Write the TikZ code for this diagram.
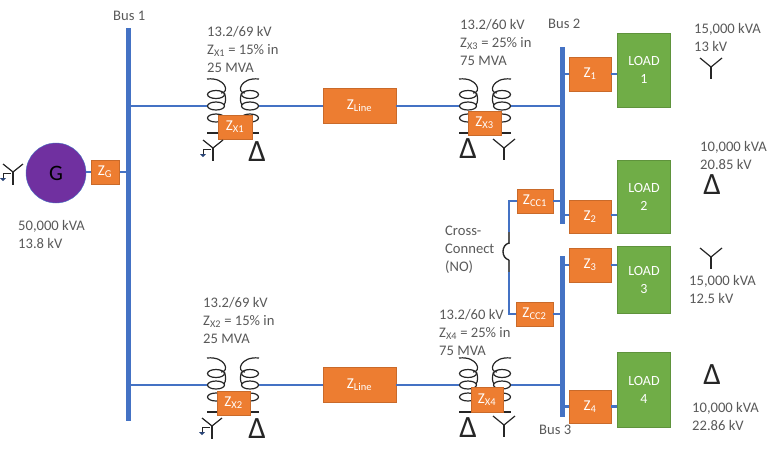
\documentclass[tikz,border=0pt]{standalone}
\usepackage{fontspec}
\setmainfont{Carlito}
\definecolor{busblue}{HTML}{4472C4}
\definecolor{zorange}{HTML}{ED7D31}
\definecolor{loadgreen}{HTML}{70AD47}
\definecolor{genpurple}{HTML}{7030A0}
\definecolor{txtgray}{HTML}{595959}
\definecolor{symdark}{HTML}{262626}
\tikzstyle{wire}=[-,draw=busblue,line width=2.2pt]
\tikzstyle{busbar}=[rectangle,fill=busblue,inner sep=0pt,minimum width=5]
\tikzstyle{zb}=[rectangle,draw=zorange!85!black,line width=0.4pt,fill=zorange,text=white,inner sep=0pt,font=\fontsize{15}{16}\selectfont]
\tikzstyle{loadb}=[rectangle,draw=loadgreen!85!black,line width=0.4pt,fill=loadgreen,text=white,inner sep=0pt,align=center,minimum width=53,font=\fontsize{14}{18}\selectfont]
\tikzstyle{lab}=[inner sep=0pt,anchor=west,align=left,text=txtgray,font=\fontsize{14.6}{18}\selectfont]
\tikzstyle{sym}=[draw=symdark,line width=1.2pt]
\tikzstyle{dsym}=[inner sep=0pt,text=symdark,font=\fontsize{31}{31}\selectfont]
\tikzset{
  wye/.pic={
    \draw[sym] (-11,-9) -- (0,0) -- (11,-9);
    \draw[sym,line width=1.6pt] (0,0) -- (0,12);
  },
  gndwye/.pic={
    \draw[sym] (-10,-8) -- (0,0) -- (10,-8);
    \draw[sym,line width=1.6pt] (0,0) -- (0,13);
    \draw[sym,line width=0.8pt] (-2,1) -- (-10,1) -- (-10,6);
    \fill[busblue!60!black] (-13,6) -- (-7,6) -- (-10,9) -- cycle;
  },
  xfmr/.pic={
    \foreach \s in {-1,1} {
      \draw[sym] (\s*26,-27) .. controls (\s*7,-29) and (\s*3,-13) .. (\s*12,-13);
      \draw[sym] (\s*8.5,-13) .. controls (\s*7,-8) and (\s*7,-4) .. (\s*9,-1);
      \foreach \h in {-11.5,0,12}
        \draw[sym] (\s*17,\h) ellipse [x radius=8.5, y radius=4];
      \draw[sym] (\s*26,27) -- (\s*10,27);
    }
    \coordinate (-l) at (-26,0);
    \coordinate (-r) at (26,0);
  }
}
\newcommand{\zs}[1]{Z\textsubscript{#1}}
\begin{document}
\begin{tikzpicture}[>=latex,x=1pt,y=-1pt]
\useasboundingbox (0,0) rectangle (779,448);

\node[busbar,minimum height=393] (B1) at (128,224.5) {};
\node[busbar,minimum height=177] (B2) at (562,135.5) {};
\node[busbar,minimum height=161] (B3) at (562,336.5) {};

\node[circle,draw=busblue,line width=0.4pt,fill=genpurple,minimum size=60,inner sep=0pt,font=\fontsize{22}{24}\selectfont] (G) at (56,173) {G};
\pic (X1) at (233,106) {xfmr};
\pic (X2) at (233,385) {xfmr};
\pic (X3) at (485,106) {xfmr};
\pic (X4) at (485,385) {xfmr};

\draw[wire] (G.east |- 0,172) -- (91,172);
\draw[wire] (119,172) -- (B1 |- 0,172);
\draw[wire] (X1-l -| B1) -- (X1-l);
\draw[wire] (X2-l -| B1) -- (X2-l);
\draw[wire] (X3-r) -- (X3-r -| B2);
\draw[wire] (X4-r) -- (X4-r -| B3);

\node[zb,minimum width=28,minimum height=24] (ZG) at (105,172) {\zs{G}};
\node[zb,minimum width=34,minimum height=24] (ZX1) at (235,127) {\zs{X1}};
\node[zb,minimum width=33,minimum height=24] (ZX2) at (233.5,403) {\zs{X2}};
\node[zb,minimum width=33,minimum height=24] (ZX3) at (484.5,123) {\zs{X3}};
\node[zb,minimum width=32,minimum height=25] (ZX4) at (487,399.5) {\zs{X4}};
\node[zb,minimum width=73,minimum height=35] (ZL1) at (359.5,106) {\zs{Line}};
\node[zb,minimum width=73,minimum height=35] (ZL2) at (359.5,385) {\zs{Line}};
\node[zb,minimum width=42,minimum height=34] (Z1) at (590,74) {\zs{1}};
\node[zb,minimum width=42,minimum height=33] (Z2) at (590,216.5) {\zs{2}};
\node[zb,minimum width=42,minimum height=34] (Z3) at (590,265) {\zs{3}};
\node[zb,minimum width=42,minimum height=33] (Z4) at (590,406.5) {\zs{4}};
\node[zb,minimum width=36,minimum height=24] (ZC1) at (535,201) {\zs{CC1}};
\node[zb,minimum width=37,minimum height=24] (ZC2) at (534.5,314) {\zs{CC2}};

\node[loadb,minimum height=74] (L1) at (644,70) {LOAD\\1};
\node[loadb,minimum height=73] (L2) at (644,196.5) {LOAD\\2};
\node[loadb,minimum height=67] (L3) at (644,279.5) {LOAD\\3};
\node[loadb,minimum height=75] (L4) at (644,389.5) {LOAD\\4};

\draw[wire] (ZL1.west) -- (X1-r);
\draw[wire] (ZL2.west) -- (X2-r);
\draw[wire] (ZL1.east) -- (X3-l);
\draw[wire] (ZL2.east) -- (X4-l);
\draw[wire] (Z1.west -| B2) -- (Z1.west);
\draw[wire] (B2 |- 0,215) -- (569,215);
\draw[wire] (Z3.west -| B3) -- (Z3.west);
\draw[wire] (B3 |- Z4.west) -- (Z4.west);
\draw[wire] (Z1.east) -- (Z1.east -| L1.west);
\draw[wire] (611,215) -- (L2.west |- 0,215);
\draw[wire] (Z3.east) -- (Z3.east -| L3.west);
\draw[wire] (Z4.east) -- (Z4.east -| L4.west);
\draw[wire] (ZC1.east) -- (ZC1.east -| B2);
\draw[wire] (ZC2.east) -- (ZC2.east -| B3);

\coordinate (SA) at (509,232);
\coordinate (SB) at (509,272);
\draw[wire] (ZC1.west) -- (ZC1.west -| SA) -- (SA);
\draw[wire] (ZC2.west) -- (ZC2.west -| SB) -- (SB);
\draw[draw=txtgray,line width=2.2pt] (SA) -- (509,244);
\draw[draw=txtgray,line width=2.2pt] (509,260) -- (SB);
\draw[sym,line width=1.4pt] (509,243) .. controls (501,245) and (501,258) .. (509,260);

\pic at (13,172) {gndwye};
\pic at (213,148) {gndwye};
\pic at (212,426) {gndwye};
\pic at (504,148) {wye};
\pic at (504,425) {wye};
\pic at (711,67) {wye};
\pic at (711,257) {wye};

\node[dsym] (D1) at (257,152) {Δ};
\node[dsym] (D2) at (257,429) {Δ};
\node[dsym] (D3) at (468,149) {Δ};
\node[dsym] (D4) at (468,428) {Δ};
\node[dsym] (D5) at (712,185) {Δ};
\node[dsym] (D6) at (712,375) {Δ};

\node[lab] (T1) at (113,16) {Bus 1};
\node[lab] (T2) at (548,24) {Bus 2};
\node[lab] (T3) at (539,430) {Bus 3};
\node[lab] (T4) at (18,234) {50,000 kVA\\13.8 kV};
\node[lab] (T5) at (207,49) {13.2/69 kV\\\zs{X1} = 15\% in\\25 MVA};
\node[lab] (T6) at (203,320) {13.2/69 kV\\\zs{X2} = 15\% in\\25 MVA};
\node[lab] (T7) at (460,42) {13.2/60 kV\\\zs{X3} = 25\% in\\75 MVA};
\node[lab] (T8) at (439,332) {13.2/60 kV\\\zs{X4} = 25\% in\\75 MVA};
\node[lab] (T9) at (445,250) {Cross-\\Connect\\(NO)};
\node[lab] (T10) at (694,37) {15,000 kVA\\13 kV};
\node[lab] (T11) at (700,155) {10,000 kVA\\20.85 kV};
\node[lab] (T12) at (689,289) {15,000 kVA\\12.5 kV};
\node[lab] (T13) at (692,416) {10,000 kVA\\22.86 kV};
\end{tikzpicture}
\end{document}
